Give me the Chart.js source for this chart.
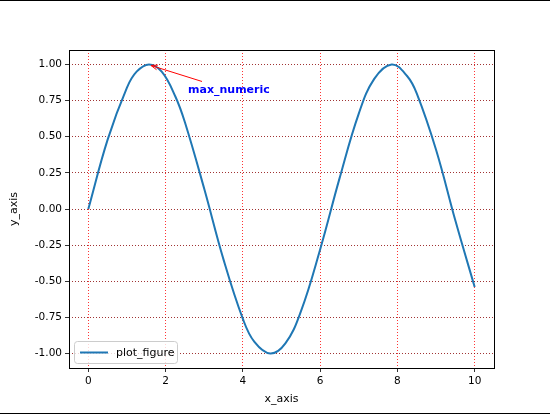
<!DOCTYPE html>
<html>
<head>
<script src="https://cdn.jsdelivr.net/npm/chart.js@4"></script>
<style>body{margin:0;background:#fff}#wrap{width:550px;height:415px}</style>
</head>
<body>
<div id="wrap"><canvas id="c"></canvas></div>
<script>
// values
const xValues = [0, 0.5, 1, 1.25, 1.57, 1.9, 2.25, 2.5, 3, 3.5, 4, 4.3, 4.71, 5.1, 5.5, 6, 6.5, 7, 7.4, 7.85, 8.25, 8.5, 9, 9.5, 10];
const yValues = [0, 0.48, 0.84, 0.95, 1.0, 0.95, 0.78, 0.60, 0.14, -0.35, -0.76, -0.92, -1.0, -0.93, -0.71, -0.28, 0.21, 0.66, 0.90, 1.0, 0.92, 0.80, 0.41, -0.08, -0.54];
const xTicks = [0, 2, 4, 6, 8, 10];
const yTicks = [-1, -0.75, -0.5, -0.25, 0, 0.25, 0.5, 0.75, 1];
const peak = { x: 1.57, y: 1.0 };
const labelPos = { x: 2.58, y: 0.82 };

const font = { family: 'DejaVu Sans', size: 10.5 };

const extras = {
  id: 'extras',
  afterDraw(chart) {
    const ctx = chart.ctx, a = chart.chartArea;
    const sx = chart.scales.x, sy = chart.scales.y;
    ctx.save();
    // figure edges
    ctx.strokeStyle = '#000'; ctx.lineWidth = 1;
    ctx.beginPath(); ctx.moveTo(0, 0.5); ctx.lineTo(550, 0.5);
    ctx.moveTo(0, 413.5); ctx.lineTo(550, 413.5); ctx.stroke();
    // frame
    ctx.strokeRect(a.left + 0.5, a.top + 0.5, a.right - a.left, a.bottom - a.top);
    // titles
    ctx.fillStyle = '#000'; ctx.font = '11px DejaVu Sans';
    ctx.textAlign = 'center'; ctx.textBaseline = 'middle';
    ctx.fillText('x_axis', (a.left + a.right) / 2, 399);
    ctx.translate(14, (a.top + a.bottom) / 2); ctx.rotate(-Math.PI / 2);
    ctx.fillText('y_axis', 0, 0);
    ctx.setTransform(1, 0, 0, 1, 0, 0);
    ctx.scale(chart.currentDevicePixelRatio, chart.currentDevicePixelRatio);
    // annotation
    const px = sx.getPixelForValue(peak.x), py = sy.getPixelForValue(peak.y);
    const tx = sx.getPixelForValue(labelPos.x), ty = sy.getPixelForValue(labelPos.y);
    ctx.strokeStyle = 'red'; ctx.fillStyle = 'red';
    ctx.beginPath(); ctx.moveTo(tx + 14, ty - 9); ctx.lineTo(px + 2, py + 1); ctx.stroke();
    const ang = Math.atan2(py + 1 - (ty - 9), px + 2 - (tx + 14));
    ctx.beginPath();
    ctx.moveTo(px + 2, py + 1);
    ctx.lineTo(px + 2 - 7 * Math.cos(ang - 0.35), py + 1 - 7 * Math.sin(ang - 0.35));
    ctx.moveTo(px + 2, py + 1);
    ctx.lineTo(px + 2 - 7 * Math.cos(ang + 0.35), py + 1 - 7 * Math.sin(ang + 0.35));
    ctx.stroke();
    ctx.fillStyle = 'blue'; ctx.font = 'bold 11px DejaVu Sans';
    ctx.textAlign = 'left'; ctx.textBaseline = 'middle';
    ctx.fillText('max_numeric', tx, ty);
    // legend
    const lx = a.left + 5, ly = a.bottom - 27;
    ctx.fillStyle = 'rgba(255,255,255,0.8)'; ctx.strokeStyle = '#ccc';
    ctx.beginPath(); ctx.roundRect(lx + 0.5, ly + 0.5, 103, 22, 3); ctx.fill(); ctx.stroke();
    ctx.strokeStyle = '#1f77b4'; ctx.lineWidth = 2;
    ctx.beginPath(); ctx.moveTo(lx + 6, ly + 11.5); ctx.lineTo(lx + 34, ly + 11.5); ctx.stroke();
    ctx.fillStyle = '#000'; ctx.font = '11px DejaVu Sans';
    ctx.fillText('plot_figure', lx + 42, ly + 12);
    ctx.restore();
  }
};

new Chart(document.getElementById('c'), {
  type: 'line',
  data: {
    datasets: [{
      label: 'plot_figure',
      data: xValues.map((x, i) => ({ x: x, y: yValues[i] })),
      borderColor: '#1f77b4', borderWidth: 2, pointRadius: 0,
      tension: 0.4, fill: false
    }]
  },
  options: {
    responsive: true, maintainAspectRatio: false, animation: false,
    layout: { padding: { left: 0, top: 50, right: 56, bottom: 0 } },
    plugins: { legend: { display: false }, tooltip: { enabled: false } },
    scales: {
      x: {
        type: 'linear', min: -0.5, max: 10.5,
        afterBuildTicks: s => { s.ticks = xTicks.map(v => ({ value: v })); },
        afterFit: s => { s.height = 47; },
        ticks: { color: '#000', font: font, padding: 3, autoSkip: false, maxRotation: 0 },
        grid: { color: 'red', lineWidth: 0.8, tickLength: 4, tickColor: '#000' },
        border: { display: false, dash: [1, 2] }
      },
      y: {
        min: -1.1, max: 1.1,
        afterBuildTicks: s => { s.ticks = yTicks.map(v => ({ value: v })); },
        afterFit: s => { s.width = 69; },
        ticks: { color: '#000', font: font, padding: 3, autoSkip: false, callback: v => v.toFixed(2) },
        grid: { color: '#800', lineWidth: 0.8, tickLength: 4, tickColor: '#000' },
        border: { display: false, dash: [1, 2] }
      }
    }
  },
  plugins: [extras]
});
</script>
</body>
</html>
